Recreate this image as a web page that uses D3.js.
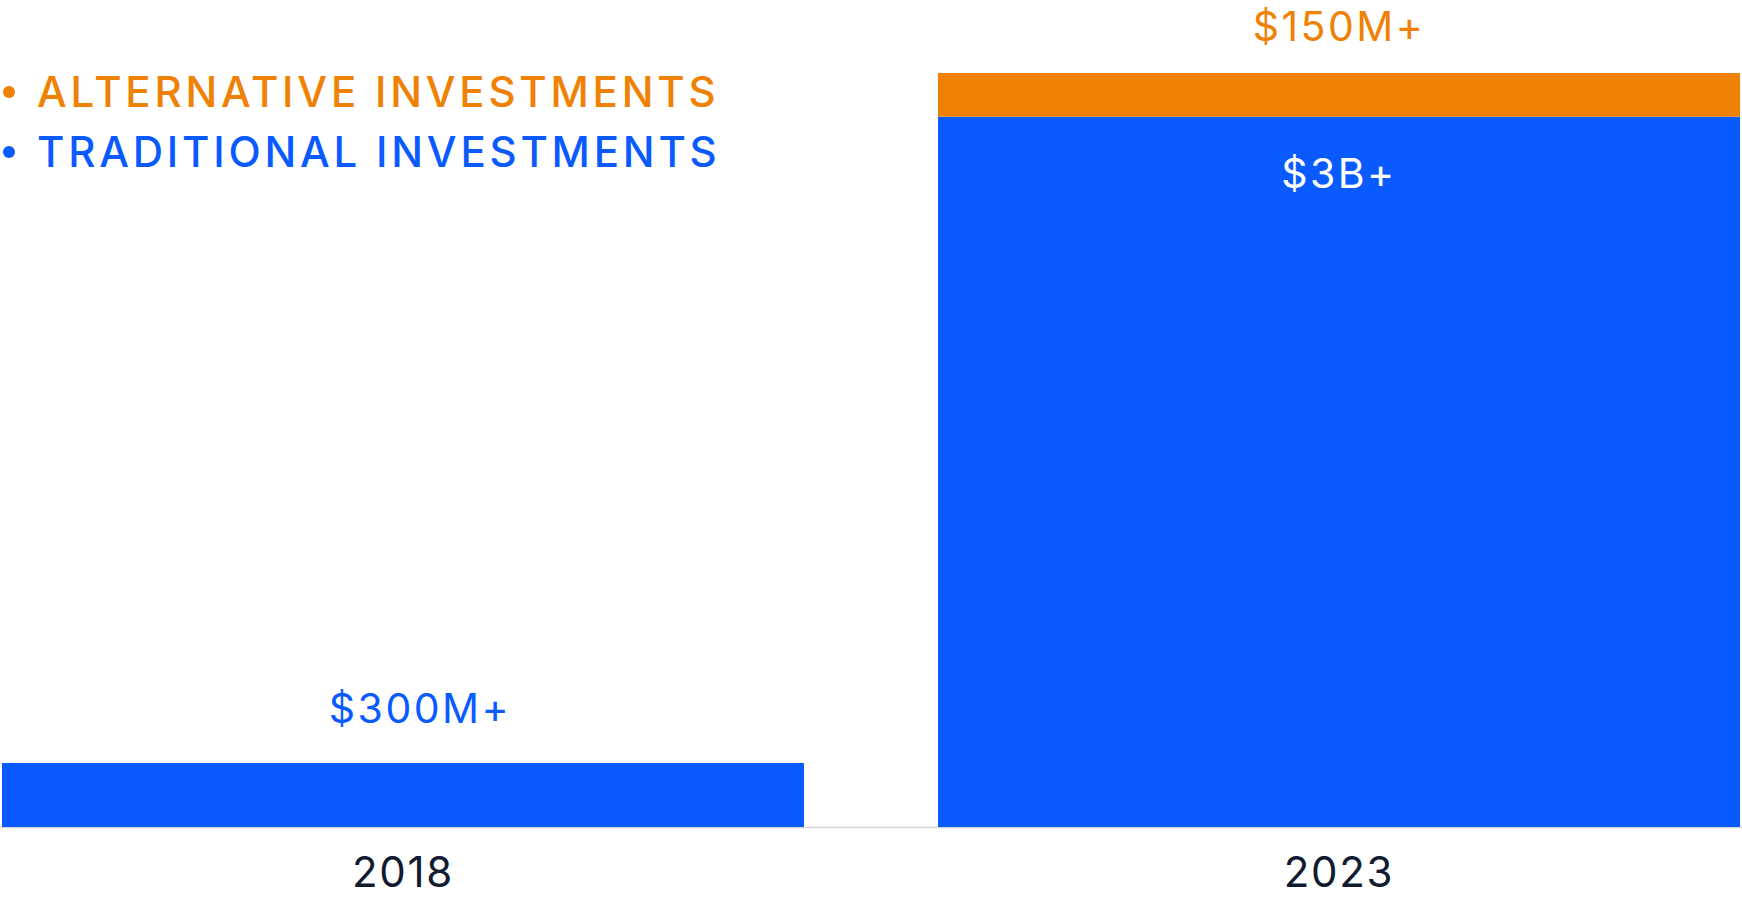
<!DOCTYPE html>
<html>
<head>
<meta charset="utf-8">
<script src="https://cdn.jsdelivr.net/npm/d3@7"></script>
<style>
  html, body { margin: 0; padding: 0; background: #fff; }
  svg { display: block; font-family: Inter, "Noto Sans", sans-serif; }
</style>
</head>
<body>
<div id="chart"></div>
<script>
// data
var years = ["2018", "2023"];
var traditional = [300, 3330];
var alternative = [0, 205];
var traditionalLabels = ["$300M+", "$3B+"];
var alternativeLabels = ["", "$150M+"];
var legendNames = ["ALTERNATIVE INVESTMENTS", "TRADITIONAL INVESTMENTS"];

var blue = "#0a5bff";
var orange = "#ef8105";

var width = 1742, height = 900;
var svg = d3.select("#chart").append("svg")
  .attr("width", width)
  .attr("height", height);

var rows = years.map(function(y, i) {
  return { year: y, traditional: traditional[i], alternative: alternative[i] };
});
var stack = d3.stack().keys(["traditional", "alternative"])(rows);

var x = d3.scaleBand()
  .domain(years)
  .range([2, 1740])
  .paddingInner(0.1432)
  .paddingOuter(0);

var y = d3.scaleLinear()
  .domain([0, d3.max(rows, function(d) { return d.traditional + d.alternative; })])
  .range([827, 73]);

// baseline
svg.append("line")
  .attr("x1", 0).attr("x2", width)
  .attr("y1", y(0) + 0.5).attr("y2", y(0) + 0.5)
  .attr("stroke", "#d4d4d4")
  .attr("stroke-width", 1.5);

var colors = { traditional: blue, alternative: orange };

svg.selectAll("g.layer")
  .data(stack)
  .enter().append("g")
    .attr("class", "layer")
    .attr("fill", function(d) { return colors[d.key]; })
  .selectAll("rect")
  .data(function(d) { return d; })
  .enter().append("rect")
    .attr("x", function(d) { return x(d.data.year); })
    .attr("width", x.bandwidth())
    .attr("y", function(d) { return y(d[1]); })
    .attr("height", function(d) { return y(d[0]) - y(d[1]); });

// value labels
var labelSize = 41;
// 2018: blue label above the bar
svg.append("text")
  .attr("x", x("2018") + x.bandwidth() / 2 + 17)
  .attr("y", y(traditional[0]) - 40)
  .attr("text-anchor", "middle")
  .attr("fill", blue)
  .style("font-size", labelSize + "px")
  .style("letter-spacing", "0.06em")
  .text(traditionalLabels[0]);

// 2023: orange label above the stack, white label inside blue
svg.append("text")
  .attr("x", x("2023") + x.bandwidth() / 2)
  .attr("y", y(traditional[1] + alternative[1]) - 32)
  .attr("text-anchor", "middle")
  .attr("fill", orange)
  .style("font-size", labelSize + "px")
  .style("letter-spacing", "0.06em")
  .text(alternativeLabels[1]);

svg.append("text")
  .attr("x", x("2023") + x.bandwidth() / 2)
  .attr("y", y(traditional[1]) + 71)
  .attr("text-anchor", "middle")
  .attr("fill", "#fff")
  .style("font-size", labelSize + "px")
  .style("letter-spacing", "0.06em")
  .text(traditionalLabels[1]);

// year axis
svg.selectAll("text.year")
  .data(years)
  .enter().append("text")
    .attr("class", "year")
    .attr("x", function(d) { return x(d) + x.bandwidth() / 2; })
    .attr("y", 887)
    .attr("text-anchor", "middle")
    .attr("fill", "#101a30")
    .style("font-size", "42px")
    .style("letter-spacing", "0.04em")
    .text(function(d) { return d; });

// legend
var legendColors = [orange, blue];
var legend = svg.selectAll("g.legend")
  .data(legendNames)
  .enter().append("g")
    .attr("class", "legend")
    .attr("transform", function(d, i) { return "translate(0," + (107 + i * 60) + ")"; });

legend.append("circle")
  .attr("cx", 9)
  .attr("cy", -15)
  .attr("r", 6)
  .attr("fill", function(d, i) { return legendColors[i]; });

legend.append("text")
  .attr("x", 37)
  .attr("y", 0)
  .attr("fill", function(d, i) { return legendColors[i]; })
  .style("font-size", "42px")
  .style("font-weight", 500)
  .style("letter-spacing", "0.09em")
  .text(function(d) { return d; });
</script>
</body>
</html>
